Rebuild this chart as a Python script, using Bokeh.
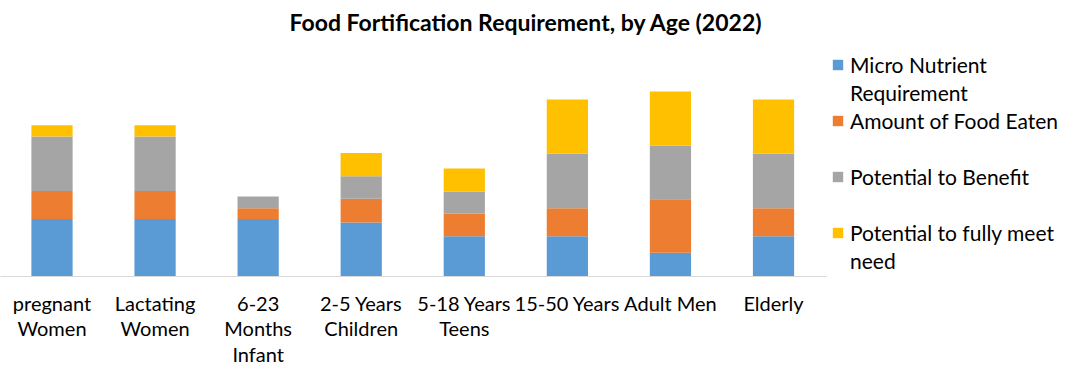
from bokeh.plotting import figure
from bokeh.models import (ColumnDataSource, Range1d, FixedTicker, Legend, LegendItem)
from bokeh.embed import file_html
from bokeh.resources import INLINE

categories = ["pregnant\nWomen", "Lactating\nWomen", "6-23\nMonths\nInfant", "2-5 Years\nChildren",
              "5-18 Years\nTeens", "15-50 Years", "Adult Men", "Elderly"]
micro_nutrient = [2.05, 2.05, 2.05, 1.93, 1.44, 1.44, 0.85, 1.44]
food_eaten =     [1.00, 1.00, 0.39, 0.85, 0.80, 1.00, 1.91, 1.00]
benefit =        [1.95, 1.95, 0.42, 0.80, 0.80, 1.95, 1.92, 1.95]
fully_meet =     [0.40, 0.40, 0.00, 0.83, 0.82, 1.93, 1.93, 1.93]
legend_first_lines = ["Micro Nutrient", "Amount of Food Eaten", "Potential to Benefit", "Potential to fully meet"]
legend_second_lines = ["Requirement", " ", " ", "need"]
colors = ["#5B9BD5", "#ED7D31", "#A5A5A5", "#FFC000"]

FONT = "Lato"
xs = list(range(len(categories)))
src = ColumnDataSource(dict(x=xs, m=micro_nutrient, f=food_eaten, b=benefit, y=fully_meet))

p = figure(frame_width=826, frame_height=236, output_backend="svg", toolbar_location=None,
           x_range=Range1d(-0.4997, 7.514), y_range=Range1d(0, 8.43),
           min_border_left=0, min_border_right=240, min_border_top=40, min_border_bottom=0)
p.title.text = "Food Fortification Requirement, by Age (2022)"
p.title.text_font = FONT
p.title.text_font_style = "bold"
p.title.text_font_size = "23px"
p.title.align = "left"
p.title.offset = 289
p.title.text_color = "#000000"

rs = p.vbar_stack(["m", "f", "b", "y"], x="x", width=0.4, source=src, color=colors, line_width=0)
# invisible renderer used only for the wrapped second line of legend labels
blank = p.vbar(x=[], top=[], width=0.4, fill_alpha=0, line_alpha=0)

p.yaxis.visible = False
p.xgrid.visible = False
p.ygrid.visible = False
p.outline_line_color = None
ax = p.xaxis[0]
ax.ticker = FixedTicker(ticks=xs)
ax.major_label_overrides = {i: c for i, c in zip(xs, categories)}
ax.major_tick_line_color = None
ax.minor_tick_line_color = None
ax.axis_line_color = "#D9D9D9"
ax.major_label_text_font = FONT
ax.major_label_text_font_size = "20px"
ax.major_label_text_color = "#000000"
ax.major_label_text_line_height = 1.08
ax.major_label_standoff = 8

items = []
for first, second, r in zip(legend_first_lines, legend_second_lines, rs):
    items.append(LegendItem(label=first, renderers=[r]))
    items.append(LegendItem(label=second, renderers=[blank]))

legend = Legend(items=items, location=(5, 2), orientation="vertical")
legend.margin = 0
legend.padding = 0
legend.label_text_font = FONT
legend.label_text_font_size = "21px"
legend.label_text_color = "#000000"
legend.glyph_width = 13
legend.glyph_height = 13
legend.label_standoff = 6
legend.label_height = 28
legend.spacing = 0
legend.border_line_color = None
legend.background_fill_alpha = 0
legend.click_policy = "none"
p.add_layout(legend, "right")

open("out.html", "w").write(file_html(p, INLINE))
